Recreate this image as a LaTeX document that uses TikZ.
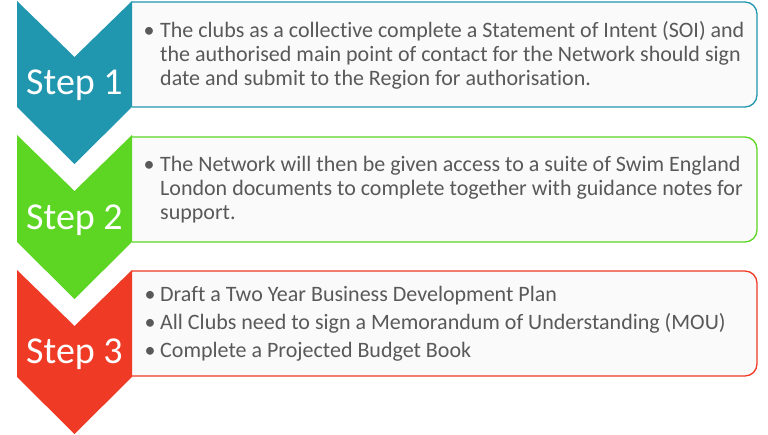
\documentclass[tikz,border=0pt]{standalone}
\usepackage{fontspec}
\setmainfont{Carlito}[Ligatures=NoCommon]
\definecolor{stepblue}{RGB}{33,150,175}
\definecolor{stepgreen}{RGB}{93,213,35}
\definecolor{stepred}{RGB}{239,59,38}
\definecolor{textgray}{RGB}{89,89,89}
\definecolor{boxgray}{RGB}{250,250,250}

\begin{document}
\begin{tikzpicture} [x=1pt, y=-1pt,
  panel/.style={fill=boxgray, line width=1.3pt, rounded corners=12pt},
  steplabel/.style={text=white, font=\fontsize{38}{40}\selectfont, inner sep=0pt, anchor=base},
  line/.style={text=textgray, font=\fontsize{22}{24}\selectfont, inner sep=0pt, anchor=base west},
  dot/.style={text=textgray, font=\fontsize{22}{24}\selectfont, inner sep=0pt, anchor=base}]
\useasboundingbox (0,0) rectangle (768,435);
\filldraw[panel, draw=stepblue] (132,2) -- (757,2) -- (757,107) -- (132,107);
\filldraw[panel, draw=stepgreen] (132,137) -- (757,137) -- (757,242) -- (132,242);
\filldraw[panel, draw=stepred] (132,271) -- (757,271) -- (757,376) -- (132,376);
\fill[stepblue] (17,1) -- (74.5,57) -- (132,1) -- (132,107) -- (74.5,164) -- (17,107) -- cycle;
\fill[stepgreen] (17,135) -- (74.5,191) -- (132,135) -- (132,242) -- (74.5,299) -- (17,242) -- cycle;
\fill[stepred] (17,270) -- (74.5,326) -- (132,270) -- (132,377) -- (74.5,434) -- (17,377) -- cycle;
\node[steplabel] (s1) at (74.5,95) {Step 1};
\node[steplabel] (s2) at (74.5,230) {Step 2};
\node[steplabel] (s3) at (74.5,363) {Step 3};
\node[dot] (d1) at (149,37.5) {•};
\node[line] (l1a) at (160,37.5) {The clubs as a collective complete a Statement of Intent (SOI) and};
\node[line] (l1b) at (160,61.5) {the authorised main point of contact for the Network should sign};
\node[line] (l1c) at (160,85.5) {date and submit to the Region for authorisation.};
\node[dot] (d2) at (149,172) {•};
\node[line] (l2a) at (160,172) {The Network will then be given access to a suite of Swim England};
\node[line] (l2b) at (160,196) {London documents to complete together with guidance notes for};
\node[line] (l2c) at (160,220) {support.};
\node[dot] (d3) at (150,302) {•};
\node[line] (l3a) at (160,302) {Draft a Two Year Business Development Plan};
\node[dot] (d4) at (150,330) {•};
\node[line] (l3b) at (160,330) {All Clubs need to sign a Memorandum of Understanding (MOU)};
\node[dot] (d5) at (150,358) {•};
\node[line] (l3c) at (160,358) {Complete a Projected Budget Book};
\end{tikzpicture}
\end{document}
